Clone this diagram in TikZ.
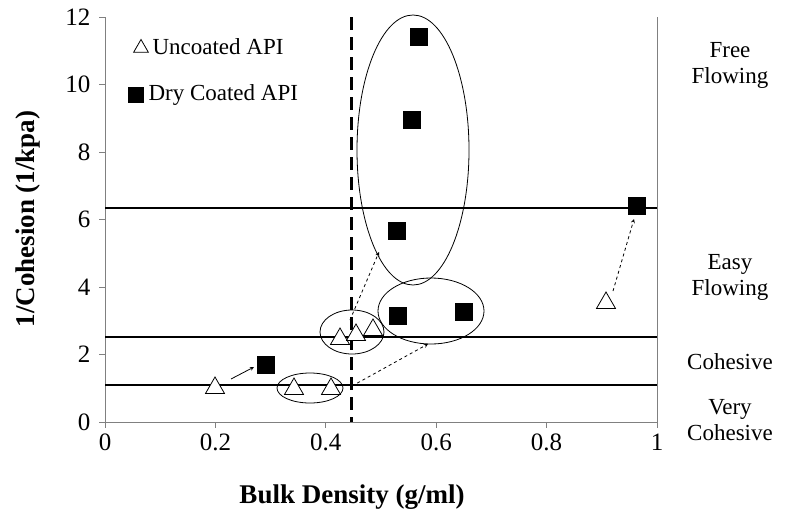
\documentclass[tikz,border=0pt]{standalone}
\usepackage{fontspec}
\setmainfont{Liberation Serif}
\usetikzlibrary{shapes.geometric}
\begin{document}
\begin{tikzpicture}[x=1pt,y=-1pt,
  tri/.style={draw,thick,fill=white,regular polygon,regular polygon sides=3,inner sep=0pt,minimum size=22pt},
  sq/.style={draw,fill=black,inner sep=0pt,minimum size=17pt},
  lab/.style={font=\fontsize{23}{26}\selectfont},
  tlab/.style={font=\fontsize{25}{28}\selectfont},
  blab/.style={font=\bfseries\fontsize{27}{30}\selectfont},
  ell/.style={draw,thick},
  arr/.style={->,thick,dashed,>=stealth}]
\useasboundingbox (0,0) rectangle (794,514);
\fill[white] (0,0) rectangle (794,514);
% axes
\draw[gray,thick] (105,17) -- (105,422) -- (657,422) -- (657,17);
\foreach \i in {0,2,...,12}{
  \draw[gray,thick] (99,{422-33.75*\i}) -- (105,{422-33.75*\i});
  \node[tlab,anchor=east] at (94,{422-33.75*\i}) {\i};
}
\foreach \v/\t in {0/0,0.2/0.2,0.4/0.4,0.6/0.6,0.8/0.8,1/1}{
  \draw[gray,thick] ({105+552*\v},422) -- ({105+552*\v},428);
  \node[tlab,anchor=north] at ({105+552*\v},430) {\t};
}
\node[blab] at (352,497) {Bulk Density (g/ml)};
\node[blab,rotate=90] at (28,219) {1/Cohesion (1/kpa)};
% region lines
\draw[line width=1.5pt] (105,208) -- (657,208);
\draw[line width=1.5pt] (105,337) -- (657,337);
\draw[line width=1.5pt] (105,385) -- (657,385);
\draw[line width=3pt,dash pattern=on 13pt off 7pt] (351,17) -- (351,422);
% right labels
\node[lab,align=center] at (730,65) {Free\\Flowing};
\node[lab,align=center] at (730,277) {Easy\\Flowing};
\node[lab] at (730,362) {Cohesive};
\node[lab,align=center] at (730,420) {Very\\Cohesive};
% ellipses
\draw[ell] (413,150) ellipse [x radius=56,y radius=135];
\draw[ell] (352,332) ellipse [x radius=32,y radius=22];
\draw[ell] (431,311) ellipse [x radius=53,y radius=33];
\draw[ell] (310,388) ellipse [x radius=33,y radius=15];
% points
\node[tri] (t1) at (215,388) {};
\node[tri] (t2) at (294,389) {};
\node[tri] (t3) at (331,389) {};
\node[tri] (t4) at (340,339) {};
\node[tri] (t5) at (356,335) {};
\node[tri] (t6) at (373,330) {};
\node[tri] (t7) at (606,303) {};
\node[sq] (s1) at (266,365) {};
\node[sq] (s2) at (398,316) {};
\node[sq] (s3) at (464,312) {};
\node[sq] (s4) at (397,231) {};
\node[sq] (s5) at (412,120) {};
\node[sq] (s6) at (419,37) {};
\node[sq] (s7) at (637,206) {};
% arrows
\coordinate (a1) at (231,379); \coordinate (b1) at (254,367);
\draw[->,thick,>=stealth] (a1) -- (b1);
\coordinate (a2) at (350,320); \coordinate (b2) at (379,252);
\draw[arr] (a2) -- (b2);
\coordinate (a3) at (352,386); \coordinate (b3) at (428,344);
\draw[arr] (a3) -- (b3);
\coordinate (a4) at (613,291); \coordinate (b4) at (634,219);
\draw[arr] (a4) -- (b4);
% legend
\node[tri,minimum size=17pt] (lt) at (141,48) {};
\node[lab,anchor=west] at (149,47) {Uncoated API};
\node[sq,minimum size=15pt] (ls) at (136,95) {};
\node[lab,anchor=west] at (145,95) {Dry Coated API};
\end{tikzpicture}
\end{document}
